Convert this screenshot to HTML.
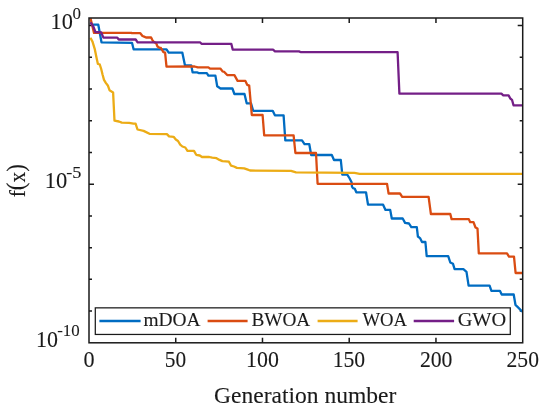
<!DOCTYPE html><html><head><meta charset="utf-8"><style>html,body{margin:0;padding:0;background:#fff;}svg{display:block;will-change:transform;}text{font-family:"Liberation Serif",serif;fill:#1a1a1a;stroke:#1a1a1a;stroke-width:0.1px;}</style></head><body>
<svg width="550" height="415" viewBox="0 0 550 415">
<rect x="0" y="0" width="550" height="415" fill="#fff"/>
<path d="M175.74,342.8v-5M175.74,18.0v5M262.48,342.8v-5M262.48,18.0v5M349.22,342.8v-5M349.22,18.0v5M435.96,342.8v-5M435.96,18.0v5M89.0,25.55h5M522.7,25.55h-5M89.0,57.28h3M522.7,57.28h-3M89.0,89.00h3M522.7,89.00h-3M89.0,120.73h3M522.7,120.73h-3M89.0,152.45h3M522.7,152.45h-3M89.0,184.18h5M522.7,184.18h-5M89.0,215.90h3M522.7,215.90h-3M89.0,247.63h3M522.7,247.63h-3M89.0,279.35h3M522.7,279.35h-3M89.0,311.08h3M522.7,311.08h-3" stroke="#1a1a1a" stroke-width="1.5" fill="none"/>
<clipPath id="c"><rect x="89.0" y="18.0" width="433.70000000000005" height="324.8"/></clipPath>
<g clip-path="url(#c)">
<polyline fill="none" stroke="#006CC2" stroke-width="2.3" stroke-linejoin="round" points="90.5,22.5 92.5,24.7 98.3,24.7 101.5,42.3 132.0,42.8 133.6,49.3 166.5,49.3 168.7,52.6 182.3,52.6 185.0,65.5 191.2,65.3 192.6,72.4 197.4,72.4 198.6,73.1 206.8,73.1 208.4,75.6 215.4,75.6 217.2,86.3 220.5,88.5 232.4,88.5 234.4,94.0 244.5,94.0 246.7,103.3 251.0,103.3 253.2,110.8 272.7,110.8 274.9,115.3 283.6,115.3 285.3,140.4 302.0,140.4 304.5,144.2 309.3,144.2 311.2,155.0 331.8,155.0 334.0,160.0 340.8,160.0 342.3,174.6 347.2,174.6 349.4,178.0 351.6,182.3 352.0,186.7 353.0,188.1 354.8,188.8 356.3,192.3 366.0,192.3 368.0,204.5 383.1,204.7 385.5,209.9 390.2,209.9 391.8,218.5 402.7,218.5 405.1,222.9 409.0,223.5 411.3,227.1 416.8,227.1 417.9,236.5 420.0,238.1 422.0,242.0 425.4,242.0 426.7,256.2 448.2,256.2 450.3,262.5 453.0,263.8 454.6,269.2 463.4,269.2 466.5,271.8 468.6,285.6 489.6,285.6 491.4,290.8 499.9,290.8 501.7,294.5 513.7,294.5 515.5,305.0 517.3,306.7 522.3,311.6"/>
<polyline fill="none" stroke="#DA4C12" stroke-width="2.3" stroke-linejoin="round" points="90.5,18.3 94.0,32.9 131.4,32.9 132.0,33.2 140.3,33.2 142.5,36.0 144.1,36.6 146.0,37.5 151.1,37.5 152.4,40.1 153.6,41.7 156.2,43.3 157.5,46.5 159.4,47.7 160.9,48.0 163.4,52.2 165.1,52.7 166.5,66.7 194.6,66.5 197.8,67.4 208.4,67.4 210.0,68.6 220.3,68.6 222.7,71.5 224.3,71.9 227.2,75.1 234.4,75.1 237.6,80.9 245.4,80.9 247.3,84.9 249.2,85.6 251.8,115.0 262.6,115.0 264.2,135.3 293.6,135.3 295.4,153.0 316.0,153.0 317.6,183.8 387.0,183.8 388.6,193.5 400.0,193.5 402.2,196.8 428.6,196.8 430.9,214.0 450.3,214.0 451.6,219.1 468.8,219.1 470.2,222.2 473.5,222.2 475.5,227.5 477.5,228.5 478.8,253.4 507.0,253.4 509.0,256.7 514.0,256.7 515.6,273.0 522.3,273.0"/>
<polyline fill="none" stroke="#ECAC16" stroke-width="2.3" stroke-linejoin="round" points="90.4,37.8 92.5,41.6 94.7,48.8 96.8,59.0 97.9,64.0 99.7,64.4 101.2,69.0 102.6,74.8 104.0,79.9 105.8,82.9 108.0,85.8 109.5,90.2 113.1,92.4 114.5,120.7 118.9,121.5 121.8,122.6 129.1,122.9 133.5,123.6 135.6,123.6 137.5,129.5 143.6,130.9 149.5,133.8 166.9,134.1 169.1,136.4 173.6,136.8 175.8,139.5 178.0,141.0 180.2,144.6 182.4,146.5 185.3,147.5 187.5,150.9 194.0,150.9 196.2,154.8 199.8,155.5 202.0,157.0 209.3,157.0 212.2,157.7 216.5,158.2 219.5,159.9 222.4,161.1 228.9,161.7 231.1,165.7 234.0,166.5 236.9,167.9 244.2,168.3 247.1,169.4 250.0,170.5 291.0,170.8 296.0,172.3 354.5,172.8 359.6,173.8 522.3,173.8"/>
<polyline fill="none" stroke="#741F87" stroke-width="2.3" stroke-linejoin="round" points="90.5,22.4 93.3,26.5 95.4,32.0 101.2,32.4 103.4,37.6 117.3,37.6 118.7,39.5 135.7,39.5 137.6,42.3 200.0,42.3 201.5,43.8 231.3,43.8 232.7,49.6 273.0,49.6 275.0,51.4 299.0,51.4 301.0,52.2 397.6,52.2 399.4,93.7 501.4,93.7 503.3,95.4 508.6,95.4 510.3,98.5 512.0,99.8 513.5,105.3 522.3,105.3"/>
</g>
<rect x="89.0" y="18.0" width="433.70000000000005" height="324.8" fill="none" stroke="#1a1a1a" stroke-width="1.5"/>
<text x="83.41" y="366.80" font-size="23.6" textLength="11.07" lengthAdjust="spacingAndGlyphs">0</text>
<text x="164.72" y="366.80" font-size="23.6" textLength="21.33" lengthAdjust="spacingAndGlyphs">50</text>
<text x="246.03" y="366.80" font-size="23.6" textLength="32.85" lengthAdjust="spacingAndGlyphs">100</text>
<text x="332.65" y="366.80" font-size="23.6" textLength="32.52" lengthAdjust="spacingAndGlyphs">150</text>
<text x="419.93" y="366.80" font-size="23.6" textLength="32.54" lengthAdjust="spacingAndGlyphs">200</text>
<text x="506.54" y="366.80" font-size="23.6" textLength="32.43" lengthAdjust="spacingAndGlyphs">250</text>
<text x="50.59" y="29.40" font-size="23.8" textLength="22.30" lengthAdjust="spacingAndGlyphs">10</text>
<text x="72.52" y="18.50" font-size="17.6" textLength="8.45" lengthAdjust="spacingAndGlyphs">0</text>
<text x="44.77" y="188.00" font-size="23.8" textLength="22.53" lengthAdjust="spacingAndGlyphs">10</text>
<text x="66.27" y="177.50" font-size="17.6" textLength="15.22" lengthAdjust="spacingAndGlyphs">-5</text>
<text x="35.92" y="346.80" font-size="23.8" textLength="21.95" lengthAdjust="spacingAndGlyphs">10</text>
<text x="57.22" y="336.30" font-size="17.6" textLength="22.50" lengthAdjust="spacingAndGlyphs">-10</text>
<text x="214.06" y="403.00" font-size="22.5" textLength="182.31" lengthAdjust="spacingAndGlyphs">Generation number</text>
<g transform="translate(24.7,181) rotate(-90)"><text x="-16.3" y="0" font-size="23.5" textLength="33.1" lengthAdjust="spacingAndGlyphs">f<tspan font-size="25" dy="-0.6">(</tspan><tspan dy="0.6">x</tspan><tspan font-size="25" dy="-0.6">)</tspan></text></g>
<rect x="95.3" y="307.85" width="415.0" height="26.60" fill="#fff" stroke="#1a1a1a" stroke-width="1.25"/>
<line x1="99.4" y1="321" x2="140.6" y2="321" stroke="#006CC2" stroke-width="2.3"/>
<line x1="207.6" y1="321" x2="247.6" y2="321" stroke="#DA4C12" stroke-width="2.3"/>
<line x1="317.6" y1="321" x2="357.6" y2="321" stroke="#ECAC16" stroke-width="2.3"/>
<line x1="413.7" y1="321" x2="454.1" y2="321" stroke="#741F87" stroke-width="2.3"/>
<text x="143.41" y="325.50" font-size="18.5" textLength="57.17" lengthAdjust="spacingAndGlyphs">mDOA</text>
<text x="251.42" y="325.50" font-size="18.5" textLength="58.88" lengthAdjust="spacingAndGlyphs">BWOA</text>
<text x="362.40" y="325.50" font-size="18.5" textLength="44.67" lengthAdjust="spacingAndGlyphs">WOA</text>
<text x="457.69" y="325.50" font-size="18.5" textLength="48.49" lengthAdjust="spacingAndGlyphs">GWO</text>
</svg></body></html>
